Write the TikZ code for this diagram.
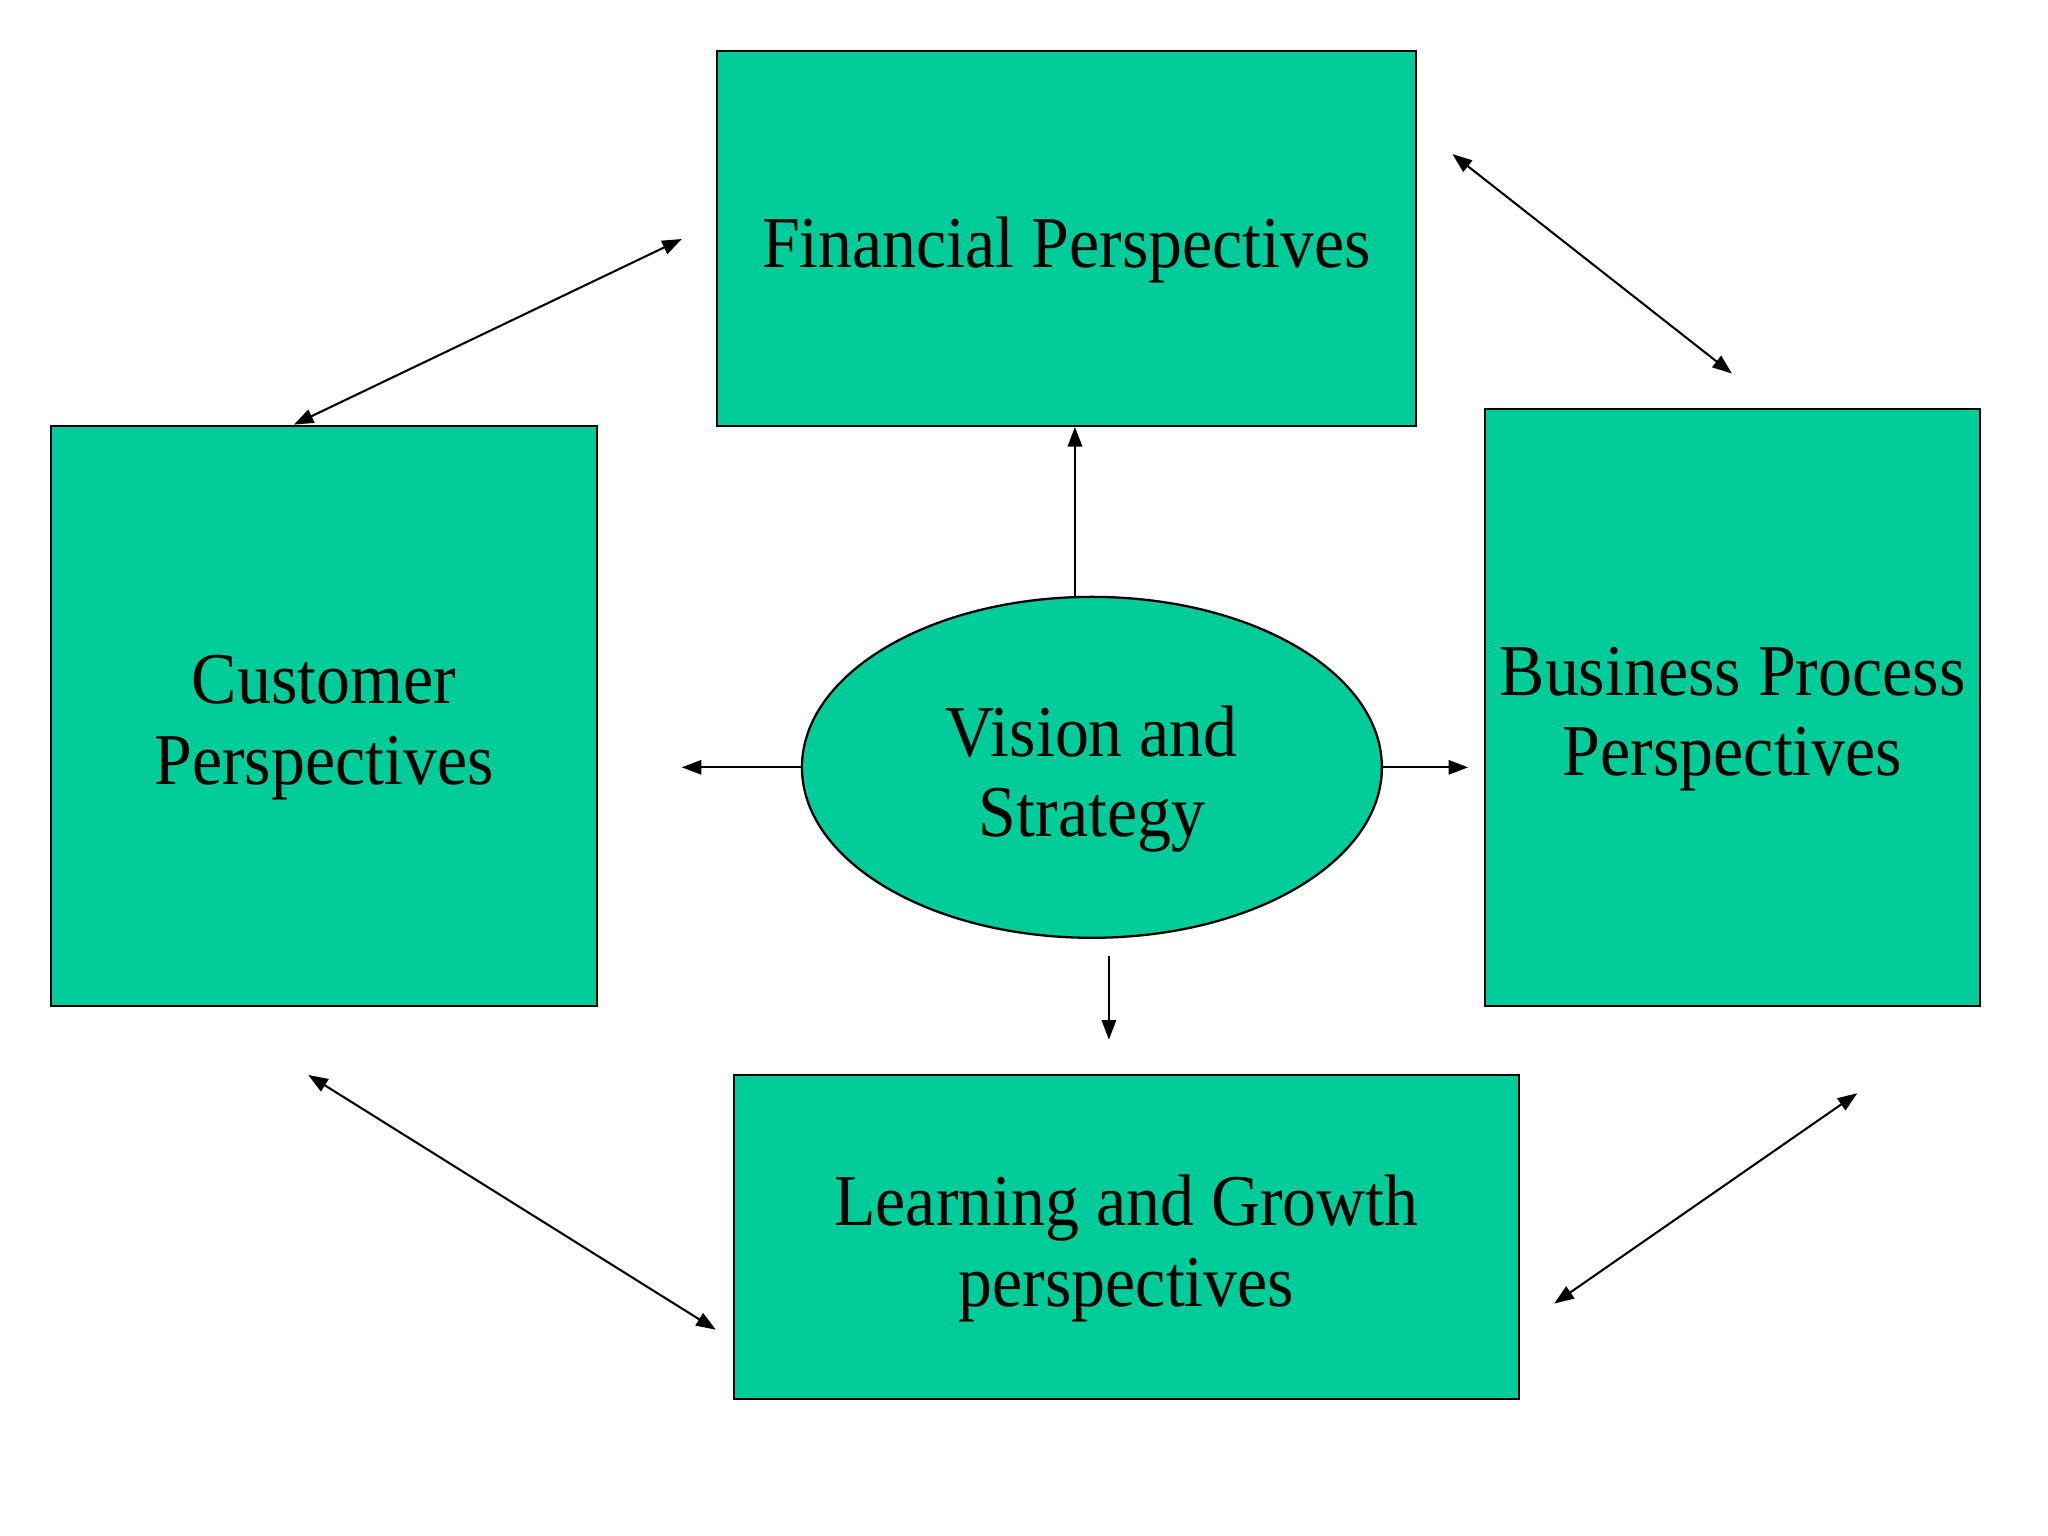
\documentclass[tikz,border=0pt]{standalone}
\usepackage{fontspec}
\setmainfont{Liberation Serif}[FakeStretch=0.93]
\usetikzlibrary{arrows.meta,shapes.geometric,calc}
\definecolor{bsgreen}{RGB}{0,204,153}
\tikzset{
  panel/.style={draw=black, line width=0.5pt, fill=bsgreen, inner sep=0pt},
  caption/.style={inner sep=0pt, align=center, yshift=-0.09cm,
    font=\fontsize{15.9}{17.6}\selectfont},
  link/.style={line width=0.45pt, {Triangle[length=0.15cm,width=0.11cm]}-{Triangle[length=0.15cm,width=0.11cm]}},
  push/.style={line width=0.45pt, -{Triangle[length=0.15cm,width=0.11cm]}}
}
\begin{document}
\begin{tikzpicture}
\useasboundingbox[fill=white] (0,0) rectangle (15.68,-11.76);
% shapes
\node[panel, rectangle, minimum width=5.35cm, minimum height=2.87cm] (fin) at (8.165,-1.825) {};
\node[panel, rectangle, minimum width=4.18cm, minimum height=4.44cm] (cus) at (2.48,-5.48) {};
\node[panel, rectangle, minimum width=3.79cm, minimum height=4.57cm] (bus) at (13.265,-5.415) {};
\node[panel, rectangle, minimum width=6.01cm, minimum height=2.48cm] (lea) at (8.625,-9.47) {};
\node[panel, ellipse, minimum width=4.44cm, minimum height=2.61cm] (vs) at (8.36,-5.875) {};
% texts
\node[caption] (finT) at (fin.center) {Financial Perspectives};
\node[caption] (cusT) at (cus.center) {Customer\\Perspectives};
\node[caption] (busT) at (bus.center) {Business Process\\Perspectives};
\node[caption] (leaT) at (lea.center) {Learning and Growth\\perspectives};
\node[caption] (vsT) at (vs.center) {Vision and\\Strategy};
% free ends
\coordinate (vl) at (5.22,-5.875);
\coordinate (vr) at (11.24,-5.875);
\coordinate (d1) at (8.49,-7.32);
\coordinate (d2) at (8.49,-7.96);
\coordinate (cf) at (5.22,-1.83);
\coordinate (fb1) at (11.12,-1.18);
\coordinate (fb2) at (13.26,-2.86);
\coordinate (cl1) at (2.36,-8.23);
\coordinate (cl2) at (5.48,-10.18);
\coordinate (bl1) at (14.22,-8.37);
\coordinate (bl2) at (11.90,-9.98);
% connectors
\draw[push] ([xshift=-0.13cm]vs.north) -- ([xshift=-0.13cm]vs.north |- fin.south);
\draw[push] (vs.west) -- (vl);
\draw[push] (vs.east) -- (vr);
\draw[push] (d1) -- (d2);
\draw[link] ([xshift=-0.23cm]cus.north) -- (cf);
\draw[link] (fb1) -- (fb2);
\draw[link] (cl1) -- (cl2);
\draw[link] (bl1) -- (bl2);
\end{tikzpicture}
\end{document}
